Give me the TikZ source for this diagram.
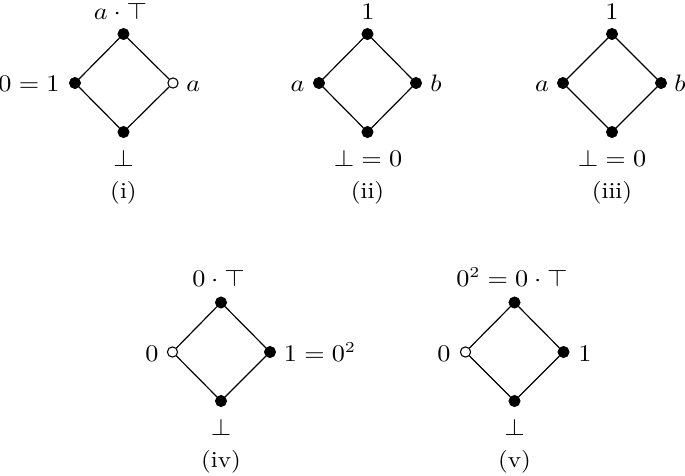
\documentclass[tikz,border=0pt]{standalone}
\begin{document}
\begin{tikzpicture}[x=0.46pt,y=-0.46pt,
  fdot/.style={circle,fill=black,draw=black,line width=0.4pt,inner sep=0pt,minimum size=5.1pt},
  odot/.style={circle,fill=white,draw=black,line width=0.5pt,inner sep=0pt,minimum size=4.7pt},
  edge/.style={draw=black,line width=0.55pt},
  lbl/.style={inner sep=0pt,xscale=1.1,font=\fontsize{10.5}{12}\selectfont}]
\useasboundingbox (0,0) rectangle (685,475);
% (i)
\node[fdot] (T1) at (123.5,34) {};
\node[fdot] (L1) at (75,83) {};
\node[odot] (R1) at (173,83) {};
\node[fdot] (B1) at (123.5,132) {};
\draw[edge] (L1) -- (T1) -- (R1) -- (B1) -- (L1);
\node[lbl,anchor=base] (t1) at (120.5,19.5) {$a\cdot\top$};
\node[lbl,anchor=base east] (l1) at (60,91) {$0=1$};
\node[lbl,anchor=base west] (r1) at (186,91) {$a$};
\node[lbl,anchor=base] (b1) at (123.5,166.5) {$\bot$};
\node[lbl,anchor=base] (c1) at (123.5,198) {(i)};
% (ii)
\node[fdot] (T2) at (367.5,34) {};
\node[fdot] (L2) at (319,83) {};
\node[fdot] (R2) at (416,83) {};
\node[fdot] (B2) at (367.5,132) {};
\draw[edge] (L2) -- (T2) -- (R2) -- (B2) -- (L2);
\node[lbl,anchor=base] (t2) at (368,19) {$1$};
\node[lbl,anchor=base east] (l2) at (305,91) {$a$};
\node[lbl,anchor=base west] (r2) at (430,91) {$b$};
\node[lbl,anchor=base] (b2) at (368,166.5) {$\bot=0$};
\node[lbl,anchor=base] (c2) at (367.5,198) {(ii)};
% (iii)
\node[fdot] (T3) at (612,34) {};
\node[fdot] (L3) at (563,83) {};
\node[fdot] (R3) at (661,83) {};
\node[fdot] (B3) at (612,132) {};
\draw[edge] (L3) -- (T3) -- (R3) -- (B3) -- (L3);
\node[lbl,anchor=base] (t3) at (612,19) {$1$};
\node[lbl,anchor=base east] (l3) at (549.5,91) {$a$};
\node[lbl,anchor=base west] (r3) at (674,91) {$b$};
\node[lbl,anchor=base] (b3) at (612,166.5) {$\bot=0$};
\node[lbl,anchor=base] (c3) at (612,198) {(iii)};
% (iv)
\node[fdot] (T4) at (221,302.5) {};
\node[odot] (L4) at (172.5,352) {};
\node[fdot] (R4) at (270,352) {};
\node[fdot] (B4) at (221,401) {};
\draw[edge] (L4) -- (T4) -- (R4) -- (B4) -- (L4);
\node[lbl,anchor=base] (t4) at (218.5,286.5) {$0\cdot\top$};
\node[lbl,anchor=base east] (l4) at (159,361) {$0$};
\node[lbl,anchor=base west] (r4) at (283.5,361) {$1=0^2$};
\node[lbl,anchor=base] (b4) at (221,435.5) {$\bot$};
\node[lbl,anchor=base] (c4) at (221,467) {(iv)};
% (v)
\node[fdot] (T5) at (514.5,302.5) {};
\node[odot] (L5) at (465.5,352) {};
\node[fdot] (R5) at (563.5,352) {};
\node[fdot] (B5) at (514.5,401) {};
\draw[edge] (L5) -- (T5) -- (R5) -- (B5) -- (L5);
\node[lbl,anchor=base] (t5) at (512,286.5) {$0^2=0\cdot\top$};
\node[lbl,anchor=base east] (l5) at (451,361) {$0$};
\node[lbl,anchor=base west] (r5) at (578,361) {$1$};
\node[lbl,anchor=base] (b5) at (514.5,435.5) {$\bot$};
\node[lbl,anchor=base] (c5) at (514.5,467) {(v)};
\end{tikzpicture}
\end{document}
